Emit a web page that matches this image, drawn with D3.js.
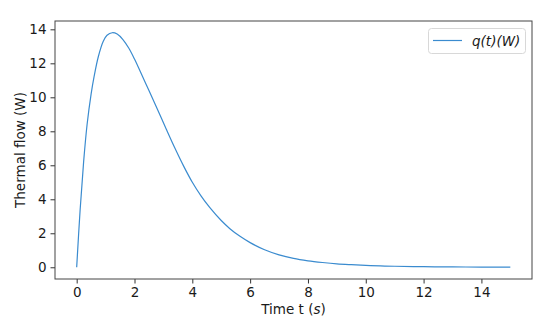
<html>
<head>
<script src="https://d3js.org/d3.v7.min.js"></script>
<style>
body { margin: 0; background: #fff; }
svg { font-family: "DejaVu Sans", sans-serif; }
</style>
</head>
<body>
<div id="plot"></div>
<script>

// values
var times = [0, 0.12, 0.24, 0.36, 0.5, 0.6, 0.75, 0.92, 1.05, 1.23, 1.4, 1.6, 1.8, 2.0, 2.2, 2.5, 2.8,
  3.1, 3.4, 3.7, 4.0, 4.3, 4.6, 5.0, 5.3, 5.65, 6.0, 6.5, 7.0, 7.5, 8.0, 8.5, 9.0, 9.5,
  10.0, 10.5, 11, 12, 13, 14, 15];
var flow = [0, 3.4, 6.2, 8.4, 10.2, 11.2, 12.4, 13.3, 13.65, 13.8, 13.72, 13.4, 12.9, 12.25, 11.52, 10.4, 9.27,
  8.12, 7.0, 5.95, 5.0, 4.2, 3.52, 2.75, 2.27, 1.82, 1.45, 1.03, 0.73, 0.52, 0.38, 0.28, 0.2, 0.15,
  0.11, 0.08, 0.06, 0.035, 0.02, 0.01, 0.005];
var xTicks = [0, 2, 4, 6, 8, 10, 12, 14];
var yTicks = [0, 2, 4, 6, 8, 10, 12, 14];

var width = 550, height = 324;
var plotLeft = 55, plotRight = 532, plotTop = 21, plotBottom = 279;
var fontSize = "13.5px";

var svg = d3.select("#plot").append("svg")
  .attr("width", width).attr("height", height);

// matplotlib style 5% margins
var xExt = d3.extent(times), yExt = d3.extent(flow);
var xPad = (xExt[1] - xExt[0]) * 0.05, yPad = (yExt[1] - yExt[0]) * 0.05;
var xScale = d3.scaleLinear().domain([xExt[0] - xPad, xExt[1] + xPad]).range([plotLeft, plotRight]);
var yScale = d3.scaleLinear().domain([yExt[0] - yPad, yExt[1] + yPad]).range([plotBottom, plotTop]);

var points = times.map(function (t, i) { return [t, flow[i]]; });

var line = d3.line()
  .x(function (d) { return xScale(d[0]); })
  .y(function (d) { return yScale(d[1]); })
  .curve(d3.curveCatmullRom.alpha(0.5));

svg.append("path").datum(points)
  .attr("d", line)
  .attr("fill", "none")
  .attr("stroke", "#3a8bcf")
  .attr("stroke-width", 1.2);

function styleAxis(g) {
  g.select(".domain").remove();
  g.selectAll(".tick line").attr("stroke", "#333");
  g.selectAll(".tick text").attr("font-size", fontSize).attr("fill", "#1a1a1a")
    .attr("font-family", "DejaVu Sans, sans-serif");
}

var xAxis = d3.axisBottom(xScale).tickValues(xTicks).tickSize(4.5).tickPadding(4).tickFormat(d3.format("d"));
svg.append("g").attr("transform", "translate(0," + plotBottom + ")").call(xAxis).call(styleAxis);

var yAxis = d3.axisLeft(yScale).tickValues(yTicks).tickSize(4.5).tickPadding(4).tickFormat(d3.format("d"));
svg.append("g").attr("transform", "translate(" + plotLeft + ",0)").call(yAxis).call(styleAxis);

// frame
svg.append("rect")
  .attr("x", plotLeft).attr("y", plotTop)
  .attr("width", plotRight - plotLeft).attr("height", plotBottom - plotTop)
  .attr("fill", "none").attr("stroke", "#444").attr("stroke-width", 1);

// axis titles
var xt = svg.append("text")
  .attr("x", (plotLeft + plotRight) / 2).attr("y", 314)
  .attr("text-anchor", "middle")
  .style("font-size", fontSize).style("fill", "#1a1a1a");
xt.append("tspan").text("Time t (");
xt.append("tspan").style("font-style", "italic").text("s");
xt.append("tspan").text(")");

svg.append("text")
  .attr("transform", "translate(25," + ((plotTop + plotBottom) / 2) + ") rotate(-90)")
  .attr("text-anchor", "middle")
  .style("font-size", fontSize).style("fill", "#1a1a1a")
  .text("Thermal flow (W)");

// legend
var legend = svg.append("g");
legend.append("rect")
  .attr("x", 428.5).attr("y", 28.5).attr("width", 97).attr("height", 25)
  .attr("rx", 3)
  .attr("fill", "#fff").attr("fill-opacity", 0.8)
  .attr("stroke", "#d8d8d8").attr("stroke-width", 1);
legend.append("line")
  .attr("x1", 433).attr("x2", 462).attr("y1", 40.5).attr("y2", 40.5)
  .attr("stroke", "#3a8bcf").attr("stroke-width", 1.2);
legend.append("text")
  .attr("x", 472).attr("y", 45.5)
  .style("font-size", fontSize).style("font-style", "italic").style("fill", "#1a1a1a")
  .text("q(t)(W)");

</script>
</body>
</html>
